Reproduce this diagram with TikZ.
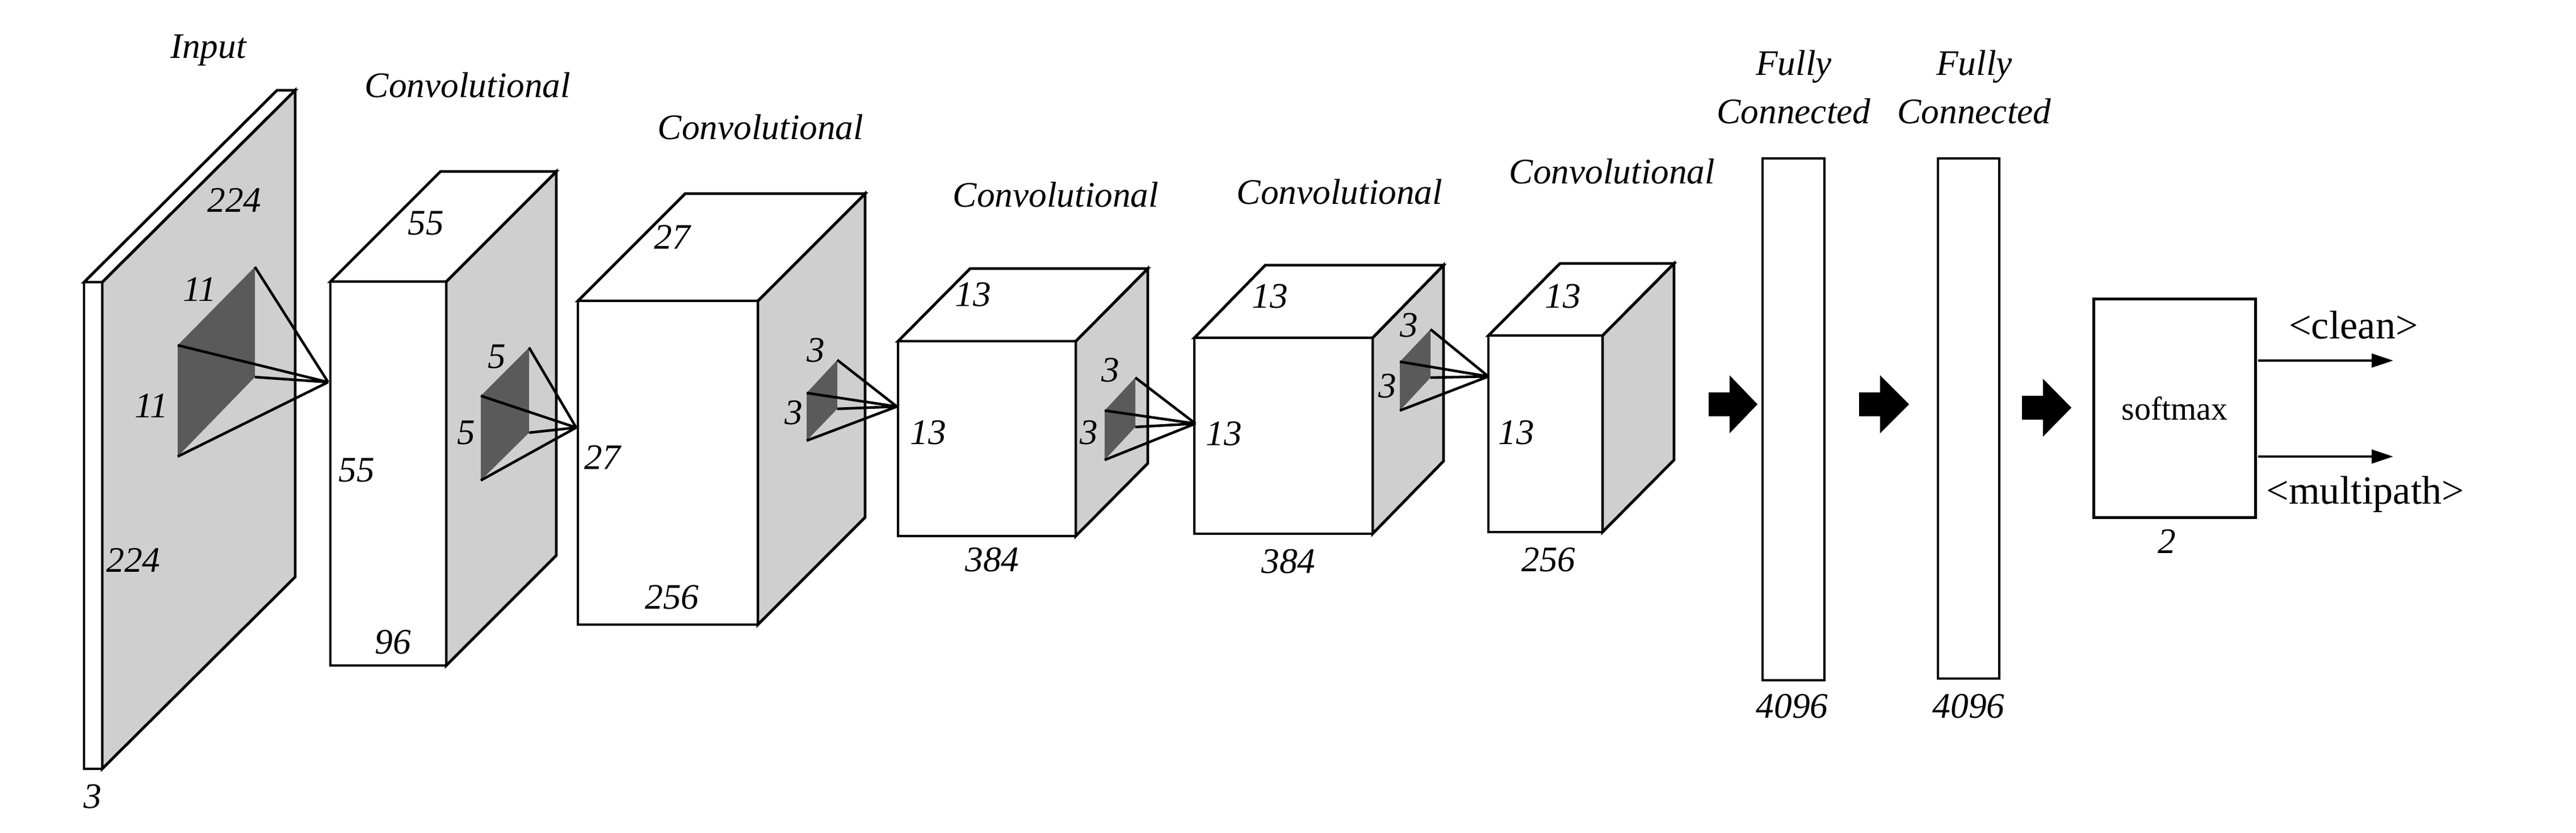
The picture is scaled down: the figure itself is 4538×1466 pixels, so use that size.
\documentclass[tikz,border=0pt]{standalone}
\usepackage{fontspec}
\setmainfont{Liberation Serif}
\usetikzlibrary{arrows.meta}
\definecolor{side}{HTML}{CFCFCF}
\definecolor{kern}{HTML}{5A5A5A}
\newcommand\mycuboid[6]{% x1 y1 x2 y2 dx dy
  \filldraw[fill=side] (#3,#2) -- (#3+#5,#2+#6) -- (#3+#5,#4+#6) -- (#3,#4) -- cycle;
  \filldraw[fill=white] (#1,#2) -- (#1+#5,#2+#6) -- (#3+#5,#2+#6) -- (#3,#2) -- cycle;
  \filldraw[fill=white] (#1,#2) rectangle (#3,#4);}
\newcommand\mykernel[7]{% name, lx ly (left x, top-left y), rx ry (right x, top y), ly2 ry2 bottoms... simplified
}
\newcommand\myblock[3]{% x0 x1 cy
  \fill (#1,#3-21) -- (#1+37,#3-21) -- (#1+37,#3-51) -- (#2,#3) -- (#1+37,#3+51) -- (#1+37,#3+21) -- (#1,#3+21) -- cycle;}
\begin{document}
\begin{tikzpicture}[x=0.01cm,y=-0.01cm,line width=1.4pt,line join=miter,
  lab/.style={font=\fontsize{18}{20}\selectfont\itshape,inner sep=0pt},
  kline/.style={line width=1.3pt}]
\useasboundingbox (0,0) rectangle (4538,1466);
% Input
\mycuboid{148}{497}{180}{1354}{340}{-338}
% Conv layers
\mycuboid{582}{496}{786}{1172}{194}{-194}
\mycuboid{1018}{530}{1335}{1100}{189}{-189}
\mycuboid{1582}{601}{1895}{944}{127}{-128}
\mycuboid{2104}{595}{2418}{940}{125}{-128}
\mycuboid{2622}{591}{2823}{937}{126}{-127}
% kernels
\fill[kern] (313,608) -- (449,470) -- (449,664) -- (313,804) -- cycle;
\coordinate (a1) at (578,673);
\draw[kline] (449,470) -- (a1) (313,608) -- (a1) (449,664) -- (a1) (313,804) -- (a1);
\fill[kern] (847,697) -- (932,612) -- (932,762) -- (847,846) -- cycle;
\coordinate (a2) at (1015,753);
\draw[kline] (932,612) -- (a2) (847,697) -- (a2) (932,762) -- (a2) (847,846) -- (a2);
\fill[kern] (1421,692) -- (1475,634) -- (1475,720) -- (1421,776) -- cycle;
\coordinate (a3) at (1580,716);
\draw[kline] (1475,634) -- (a3) (1421,692) -- (a3) (1475,720) -- (a3) (1421,776) -- (a3);
\fill[kern] (1946,723) -- (2000,665) -- (2000,752) -- (1946,810) -- cycle;
\coordinate (a4) at (2106,746);
\draw[kline] (2000,665) -- (a4) (1946,723) -- (a4) (2000,752) -- (a4) (1946,810) -- (a4);
\fill[kern] (2466,637) -- (2520,580) -- (2520,665) -- (2466,723) -- cycle;
\coordinate (a5) at (2622,663);
\draw[kline] (2520,580) -- (a5) (2466,637) -- (a5) (2520,665) -- (a5) (2466,723) -- (a5);
% labels
\node[lab] (tin) at (367,89) {Input};
\node[lab] at (413,353) {224};
\node[lab] at (235,987) {224};
\node[lab] at (163,1403) {3};
\node[lab] at (352,510) {11};
\node[lab] at (267,715) {11};
\node[lab] at (824,150) {Convolutional};
\node[lab] at (750,393) {55};
\node[lab] at (628,828) {55};
\node[lab] at (692,1131) {96};
\node[lab] at (875,628) {5};
\node[lab] at (821,762) {5};
\node[lab] at (1340,224) {Convolutional};
\node[lab] at (1184,418) {27};
\node[lab] at (1061,806) {27};
\node[lab] at (1184,1052) {256};
\node[lab] at (1437,617) {3};
\node[lab] at (1398,727) {3};
\node[lab] at (1860,343) {Convolutional};
\node[lab] at (1714,519) {13};
\node[lab] at (1635,762) {13};
\node[lab] at (1748,986) {384};
\node[lab] at (1956,652) {3};
\node[lab] at (1918,762) {3};
\node[lab] at (2360,338) {Convolutional};
\node[lab] at (2237,522) {13};
\node[lab] at (2156,764) {13};
\node[lab] at (2270,989) {384};
\node[lab] at (2482,573) {3};
\node[lab] at (2444,680) {3};
\node[lab] at (2840,302) {Convolutional};
\node[lab] at (2753,522) {13};
\node[lab] at (2671,762) {13};
\node[lab] at (2728,986) {256};
% fully connected
\draw (3105,279) rectangle (3214,1198);
\draw (3414,279) rectangle (3522,1195);
\node[lab] at (3160,117) {Fully};
\node[lab] at (3160,196) {Connected};
\node[lab] at (3157,1244) {4096};
\node[lab] at (3478,117) {Fully};
\node[lab] at (3478,196) {Connected};
\node[lab] at (3468,1244) {4096};
\myblock{3010}{3096}{712}
\myblock{3275}{3363}{712}
\myblock{3562}{3649}{718}
\node[draw,minimum width=2.85cm,minimum height=3.85cm,inner sep=0pt,anchor=north west,font=\fontsize{16.5}{18}\selectfont] (sm) at (3686,524) {softmax};
\node[lab] at (3817,954) {2};
\coordinate (c1) at (4216,635);
\coordinate (c2) at (4216,804);
\draw[line width=1.2pt,-{Triangle[length=0.38cm,width=0.24cm]}] (3978,635) -- (c1);
\draw[line width=1.2pt,-{Triangle[length=0.38cm,width=0.24cm]}] (3978,804) -- (c2);
\node[inner sep=0pt,font=\fontsize{20}{22}\selectfont] at (4146,572) {<clean>};
\node[inner sep=0pt,font=\fontsize{20}{22}\selectfont] at (4167,871) {<multipath>};
\end{tikzpicture}
\end{document}
